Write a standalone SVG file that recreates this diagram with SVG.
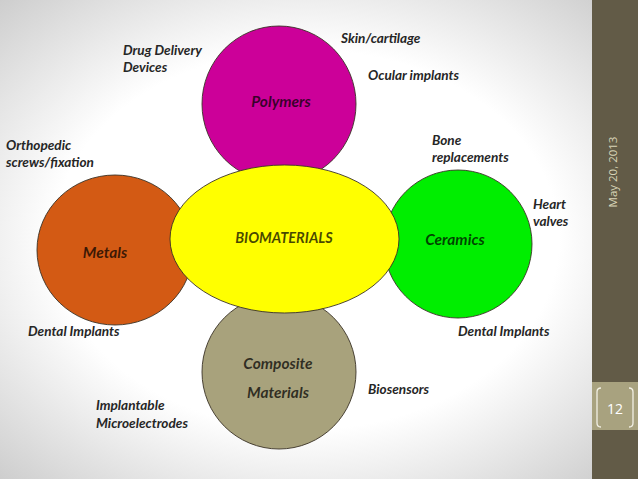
<svg xmlns="http://www.w3.org/2000/svg" width="638" height="479" viewBox="0 0 638 479">
<defs>
<radialGradient id="bg" cx="48%" cy="50%" r="72%">
<stop offset="0.55" stop-color="#ffffff"/>
<stop offset="1" stop-color="#c9c9c9"/>
</radialGradient>
</defs>
<style>
.n{stroke:#3a3226;stroke-width:0.9}
.t{font-family:Lato,"Liberation Sans",sans-serif;font-style:italic;font-weight:bold;font-size:13.6px;fill:#262626}
.c{text-anchor:middle}
.lbl{font-size:15.5px;fill:#000000;fill-opacity:0.72}
</style>
<rect x="0" y="0" width="638" height="479" fill="url(#bg)"/>
<g id="sidebar">
<rect x="592" y="0" width="46" height="479" fill="#625b47"/>
<rect x="592" y="382" width="46" height="48" fill="#a8a27f"/>
<text x="0" y="0" transform="translate(617,172) rotate(-90)" text-anchor="middle" font-family="'Open Sans','Liberation Sans',sans-serif" font-size="11.5" fill="#d9d5b8">May 20, 2013</text>
<path d="M601,388 Q597,388 597,392 L597,423 Q597,427 601,427" fill="none" stroke="#f2f0e4" stroke-width="1.3"/>
<path d="M629,388 Q633,388 633,392 L633,423 Q633,427 629,427" fill="none" stroke="#f2f0e4" stroke-width="1.3"/>
<text x="615" y="414" text-anchor="middle" font-family="'Open Sans','Liberation Sans',sans-serif" font-size="14" fill="#ffffff">12</text>
</g>
<g id="polymers">
<ellipse class="n" cx="279" cy="104" rx="77" ry="78" fill="#cc0099"/>
<text class="t c lbl" x="281" y="107">Polymers</text>
</g>
<g id="metals">
<ellipse class="n" cx="115" cy="250" rx="78" ry="75" fill="#d35a14"/>
<text class="t c lbl" x="105" y="258">Metals</text>
</g>
<g id="ceramics">
<ellipse class="n" cx="458" cy="244" rx="74" ry="74" fill="#00ee00"/>
<text class="t c lbl" x="455" y="245">Ceramics</text>
</g>
<g id="composite">
<ellipse class="n" cx="279" cy="372" rx="77" ry="77" fill="#a8a27c"/>
<text class="t c lbl" x="278" y="369">Composite</text>
<text class="t c lbl" x="278" y="398">Materials</text>
</g>
<g id="biomaterials">
<ellipse class="n" cx="284.5" cy="239" rx="114.5" ry="74" fill="#ffff00"/>
<text class="t c lbl" x="284" y="243" style="font-size:14.5px">BIOMATERIALS</text>
</g>
<g id="connectors"/>
<g id="labels">
<text class="t" x="123" y="55">Drug Delivery</text>
<text class="t" x="123" y="72">Devices</text>
<text class="t" x="341" y="43">Skin/cartilage</text>
<text class="t" x="368" y="80">Ocular implants</text>
<text class="t" x="6" y="150">Orthopedic</text>
<text class="t" x="6" y="167">screws/fixation</text>
<text class="t" x="432" y="145">Bone</text>
<text class="t" x="432" y="162">replacements</text>
<text class="t" x="533" y="209">Heart</text>
<text class="t" x="533" y="226">valves</text>
<text class="t" x="28" y="336">Dental Implants</text>
<text class="t" x="458" y="336">Dental Implants</text>
<text class="t" x="368" y="394">Biosensors</text>
<text class="t" x="96" y="410">Implantable</text>
<text class="t" x="96" y="428">Microelectrodes</text>
</g>
</svg>
